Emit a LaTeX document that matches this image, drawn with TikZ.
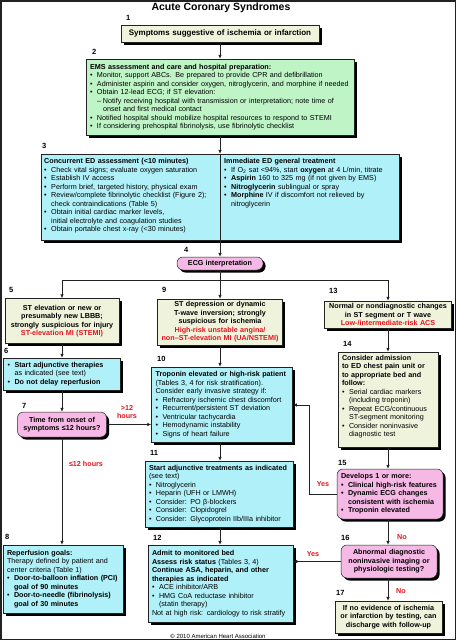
\documentclass[tikz,border=0pt]{standalone}
\usepackage{fontspec}
\setmainfont{Liberation Sans}
\usetikzlibrary{arrows.meta,shadows}
\definecolor{acsbeige}{HTML}{F0F3DC}
\definecolor{acsgreen}{HTML}{BEF4C6}
\definecolor{acscyan}{HTML}{B0F0F8}
\definecolor{acspink}{HTML}{F6B9E6}
\definecolor{acsred}{HTML}{E3141E}
\definecolor{acsline}{HTML}{222222}
\newcommand{\bu}{\makebox[7pt][l]{\textbullet}}
\newcommand{\ii}{\hspace*{7pt}}
\newcommand{\bodyfont}{\fontsize{7.2}{8.5}\selectfont}
\begin{document}
\begin{tikzpicture}[x=1pt,y=-1pt,
  box/.style={draw=acsline, line width=0.5pt, inner xsep=4pt, inner ysep=1pt, font=\bodyfont,
    drop shadow={shadow xshift=2.5pt, shadow yshift=-2.5pt, fill=black, opacity=1}},
  beigebox/.style={box, fill=acsbeige, align=center, font=\bodyfont\bfseries},
  greenbox/.style={box, fill=acsgreen, align=left},
  cyanbox/.style={box, fill=acscyan, align=left},
  pinkbox/.style={box, fill=acspink, rounded corners=6pt},
  coltext/.style={inner sep=0pt, anchor=north west, align=left, font=\bodyfont},
  num/.style={inner sep=0pt, anchor=west, font=\fontsize{7.5}{9}\selectfont\bfseries},
  rlab/.style={inner sep=0pt, align=center, text=acsred, font=\fontsize{7.2}{8.5}\selectfont\bfseries},
  arr/.style={draw=acsline, line width=0.6pt, -{Latex[length=4pt,width=3.5pt]}},
  ln/.style={draw=acsline, line width=0.6pt}]
\useasboundingbox (0,0) rectangle (456,640);
\draw[line width=1.5pt, acsline] (0.75,0.75) rectangle (455.25,639.25);

\node[font=\fontsize{10.5}{12}\selectfont\bfseries, inner sep=0pt, anchor=base] (title) at (221,10) {Acute Coronary Syndromes};

% boxes
\node[beigebox, minimum width=198pt, minimum height=17pt, text width=190pt, font=\fontsize{8}{9.5}\selectfont\bfseries] (b1) at (220,33.5)
  {Symptoms suggestive of ischemia or infarction};

\node[greenbox, minimum width=268pt, minimum height=76pt, text width=260pt] (b2) at (220,97)
  {\textbf{EMS assessment and care and hospital preparation:}\\
   \bu Monitor, support ABCs. Be prepared to provide CPR and defibrillation\\
   \bu Administer aspirin and consider oxygen, nitroglycerin, and morphine if needed\\
   \bu Obtain 12-lead ECG; if ST elevation:\\
   \ii\makebox[6pt][l]{--}Notify receiving hospital with transmission or interpretation; note time of\\
   \ii\hspace*{6pt}onset and first medical contact\\
   \bu Notified hospital should mobilize hospital resources to respond to STEMI\\
   \bu If considering prehospital fibrinolysis, use fibrinolytic checklist};

\node[box, fill=acscyan, minimum width=358pt, minimum height=86pt] (b3) at (220,197) {};
\node[coltext, text width=174pt] (b3l) at (44,158.3)
  {\textbf{Concurrent ED assessment (<10 minutes)}\\
   \bu Check vital signs; evaluate oxygen saturation\\
   \bu Establish IV access\\
   \bu Perform brief, targeted history, physical exam\\
   \bu Review/complete fibrinolytic checklist (Figure 2);\\
   \ii check contraindications (Table 5)\\
   \bu Obtain initial cardiac marker levels,\\
   \ii initial electrolyte and coagulation studies\\
   \bu Obtain portable chest x-ray (<30 minutes)};
\node[coltext, text width=172pt] (b3r) at (224,158.3)
  {\textbf{Immediate ED general treatment}\\
   \bu If O\textsubscript{2} sat <94\%, start \textbf{oxygen} at 4 L/min, titrate\\
   \bu \textbf{Aspirin} 160 to 325 mg (if not given by EMS)\\
   \bu \textbf{Nitroglycerin} sublingual or spray\\
   \bu \textbf{Morphine} IV if discomfort not relieved by\\
   \ii nitroglycerin};

\node[pinkbox, minimum width=86pt, minimum height=13pt, inner ysep=0pt, font=\bodyfont\bfseries] (ecg) at (220,263.5) {ECG interpretation};

\node[beigebox, minimum width=114pt, minimum height=45pt, text width=106pt] (b5) at (62,321)
  {ST elevation or new or\\ presumably new LBBB;\\ strongly suspicious for injury\\
   \textcolor{acsred}{ST-elevation MI (STEMI)}};

\node[beigebox, minimum width=125pt, minimum height=46pt, inner xsep=2pt, text width=121pt] (b9) at (220,322)
  {ST depression or dynamic\\ T-wave inversion; strongly\\ suspicious for ischemia\\
   \textcolor{acsred}{High-risk unstable angina/}\\
   \textcolor{acsred}{non--ST-elevation MI (UA/NSTEMI)}};

\node[beigebox, minimum width=127pt, minimum height=27pt, inner xsep=2pt, text width=123pt] (b13) at (388,314.5)
  {Normal or nondiagnostic changes\\ in ST segment or T wave\\
   \textcolor{acsred}{Low-/intermediate-risk ACS}};

\node[cyanbox, minimum width=117pt, minimum height=32pt, text width=109pt] (b6) at (62,374)
  {\bu\textbf{Start adjunctive therapies}\\
   \ii as indicated (see text)\\
   \bu\textbf{Do not delay reperfusion}};

\node[pinkbox, minimum width=89pt, minimum height=25pt, text width=81pt, align=center, font=\bodyfont\bfseries] (b7) at (62,424.5)
  {Time from onset of\\ symptoms ≤12 hours?};

\node[cyanbox, minimum width=120pt, minimum height=68pt, text width=112pt] (b8) at (63,579)
  {\textbf{Reperfusion goals:}\\
   Therapy defined by patient and\\
   center criteria (Table 1)\\
   \bu\textbf{Door-to-balloon inflation (PCI)}\\
   \ii\textbf{goal of 90 minutes}\\
   \bu\textbf{Door-to-needle (fibrinolysis)}\\
   \ii\textbf{goal of 30 minutes}};

\node[cyanbox, minimum width=141pt, minimum height=75pt, text width=133pt] (b10) at (222,404.5)
  {\textbf{Troponin elevated or high-risk patient}\\
   (Tables 3, 4 for risk stratification).\\
   Consider early invasive strategy if:\\
   \bu Refractory ischemic chest discomfort\\
   \bu Recurrent/persistent ST deviation\\
   \bu Ventricular tachycardia\\
   \bu Hemodynamic instability\\
   \bu Signs of heart failure};

\node[cyanbox, minimum width=148pt, minimum height=66pt, text width=140pt] (b11) at (219,494)
  {\textbf{Start adjunctive treatments as indicated}\\
   (see text)\\
   \bu Nitroglycerin\\
   \bu Heparin (UFH or LMWH)\\
   \bu Consider: PO β-blockers\\
   \bu Consider: Clopidogrel\\
   \bu Consider: Glycoprotein IIb/IIIa inhibitor};

\node[cyanbox, minimum width=145pt, minimum height=77pt, text width=137pt] (b12) at (220.5,583.5)
  {\textbf{Admit to monitored bed}\\
   \textbf{Assess risk status} (Tables 3, 4)\\
   \textbf{Continue ASA, heparin, and other}\\
   \textbf{therapies as indicated}\\
   \bu ACE inhibitor/ARB\\
   \bu HMG CoA reductase inhibitor\\
   \ii(statin therapy)\\
   Not at high risk: cardiology to risk stratify};

\node[box, fill=acsbeige, align=left, minimum width=100pt, minimum height=95pt, text width=92pt] (b14) at (388,399.5)
  {\textbf{Consider admission}\\
   \textbf{to ED chest pain unit or}\\
   \textbf{to appropriate bed and}\\
   \textbf{follow:}\\
   \bu Serial cardiac markers\\
   \ii(including troponin)\\
   \bu Repeat ECG/continuous\\
   \ii ST-segment monitoring\\
   \bu Consider noninvasive\\
   \ii diagnostic test\rule[-7pt]{0pt}{0pt}};

\node[pinkbox, align=left, minimum width=106pt, minimum height=50pt, text width=98pt, font=\bodyfont\bfseries] (b15) at (390,494)
  {Develops 1 or more:\\
   \bu Clinical high-risk features\\
   \bu Dynamic ECG changes\\
   \ii consistent with ischemia\\
   \bu Troponin elevated};

\node[pinkbox, align=center, minimum width=96pt, minimum height=33pt, text width=88pt, font=\bodyfont\bfseries] (b16) at (389,561.5)
  {Abnormal diagnostic\\ noninvasive imaging or\\ physiologic testing?};

\node[beigebox, minimum width=107pt, minimum height=32pt, text width=99pt] (b17) at (388.5,617)
  {If no evidence of ischemia\\ or infarction by testing, can\\ discharge with follow-up};

% step numbers
\node[num] (n1) at (126,18) {1};
\node[num] (n2) at (92,52) {2};
\node[num] (n3) at (42,146) {3};
\node[num] (n4) at (184,250) {4};
\node[num] (n5) at (9,290) {5};
\node[num] (n6) at (4,351) {6};
\node[num] (n7) at (22,406) {7};
\node[num] (n8) at (5,537) {8};
\node[num] (n9) at (162,290) {9};
\node[num] (n10) at (157,359) {10};
\node[num] (n11) at (150,453) {11};
\node[num] (n12) at (153,538) {12};
\node[num] (n13) at (329,291) {13};
\node[num] (n14) at (343,344) {14};
\node[num] (n15) at (338,463) {15};
\node[num] (n16) at (341,538) {16};
\node[num] (n17) at (336,593) {17};

% connectors
\draw[arr] (b1.south) -- (b2.north);
\draw[arr] (b2.south) -- (b3.north);
\draw[ln] (b3.north) -- (b3.south);
\draw[arr] (b3.south) -- (ecg.north);
\coordinate (brL) at (62,280);
\coordinate (brM) at (220,280);
\coordinate (brR) at (388,280);
\draw[ln] (ecg.south) -- (brM);
\draw[ln] (brL) -- (brR);
\draw[arr] (brL) -- (b5.north);
\draw[arr] (brM) -- (b9.north);
\draw[arr] (brR) -- (b13.north);

\draw[arr] (b5.south) -- (b6.north);
\draw[arr] (b6.south) -- (b7.north);
\draw[arr] (b7.south) -- (b7.south |- b8.north);
\draw[arr] (b7.east) -- (b7.east -| b10.west);

\draw[arr] (b9.south) -- (b9.south |- b10.north);
\draw[arr] (b9.south |- b10.south) -- (b9.south |- b11.north);
\draw[arr] (b9.south |- b11.south) -- (b9.south |- b12.north);

\draw[arr] (b13.south) -- (b13.south |- b14.north);
\draw[arr] (b13.south |- b14.south) -- (b13.south |- b15.north);
\draw[arr] (b13.south |- b15.south) -- (b13.south |- b16.north);
\draw[arr] (b13.south |- b16.south) -- (b13.south |- b17.north);

\coordinate (yesc) at (309,405);
\draw[arr] (b15.west) -| (yesc) -- (yesc -| b10.east);
\draw[arr] (b16.west) -- (b16.west -| b12.east);

% connector labels
\node[rlab] (l12a) at (127,412) {>12\\hours};
\node[rlab] (l12b) at (86,464) {≤12 hours};
\node[rlab] (ly1) at (323,484) {Yes};
\node[rlab] (ln1) at (402,537) {No};
\node[rlab] (ly2) at (313,554) {Yes};
\node[rlab] (ln2) at (401,591) {No};

\node[inner sep=0pt, font=\fontsize{6}{7}\selectfont] (copy) at (218,636) {© 2010 American Heart Association};
\end{tikzpicture}
\end{document}
